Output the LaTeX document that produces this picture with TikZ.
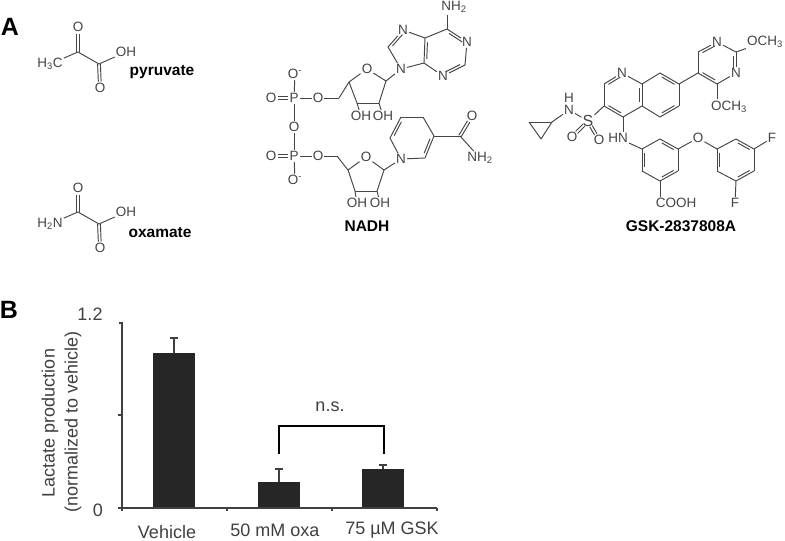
\documentclass[tikz,border=0pt]{standalone}
\usepackage{fontspec}
\setmainfont{Liberation Sans}
\usetikzlibrary{calc}
\definecolor{chemc}{HTML}{454545}
\definecolor{barc}{HTML}{262626}
\definecolor{axisc}{HTML}{404040}
\newcommand{\dbl}[2]{\draw[bond] ($(#1)!0.17!(#2)!2.6pt!90:(#2)$) -- ($(#2)!0.17!(#1)!2.6pt!-90:(#1)$);}
\newcommand{\dbs}[2]{\draw[bond,shorten >=6.5pt] ($(#1)!1.4pt!90:(#2)$) -- ($(#2)!1.4pt!-90:(#1)$);\draw[bond,shorten >=6.5pt] ($(#1)!1.4pt!-90:(#2)$) -- ($(#2)!1.4pt!90:(#1)$);}
\newcommand{\dbn}[2]{\draw[bond,shorten >=6.5pt,shorten <=6pt] ($(#1)!1.4pt!90:(#2)$) -- ($(#2)!1.4pt!-90:(#1)$);\draw[bond,shorten >=6.5pt,shorten <=6pt] ($(#1)!1.4pt!-90:(#2)$) -- ($(#2)!1.4pt!90:(#1)$);}
\newcommand{\bnd}[2]{\draw[bond] (#1) -- (#2);}
\newcommand{\sub}[1]{\textsubscript{#1}}
\begin{document}
\begin{tikzpicture}[x=1pt,y=-1pt,
  atom/.style={inner sep=1pt,text=chemc,font=\fontsize{13.5}{13.5}\selectfont},
  bond/.style={draw=chemc,line width=.95pt},
  name label/.style={inner sep=0pt,font=\fontsize{15.5}{16}\selectfont\bfseries,text=black},
  panel/.style={inner sep=0pt,font=\fontsize{25}{25}\selectfont\bfseries,text=black},
  chart text/.style={inner sep=0pt,text=axisc,font=\fontsize{18}{20}\selectfont},
  axis line/.style={draw=axisc,line width=1.1pt},
  bar/.style={fill=barc,draw=none},
  err/.style={draw=axisc,line width=1.2pt}]
\useasboundingbox (0,0) rectangle (785,541);
\fill[white] (0,0) rectangle (785,541);
\node[panel] (pA) at (10,27) {A};
\node[panel] (pB) at (9,310) {B};
% pyruvate
\node[atom] (py1) at (50,64) {H\sub{3}C};
\coordinate (py2) at (78,52);
\coordinate (py3) at (99,64);
\node[atom] (pyO1) at (78,27) {O};
\node[atom] (pyO2) at (100,88) {O};
\node[atom] (pyOH) at (126,52) {OH};
\bnd{py1}{py2}\bnd{py2}{py3}\bnd{py3}{pyOH}\dbs{py2}{pyO1}\dbs{py3}{pyO2}
\node[name label] (pyl) at (162,72) {pyruvate};
% oxamate
\node[atom] (ox1) at (50,224) {H\sub{2}N};
\coordinate (ox2) at (78,212);
\coordinate (ox3) at (99,224);
\node[atom] (oxO1) at (78,188) {O};
\node[atom] (oxO2) at (100,248) {O};
\node[atom] (oxOH) at (126,212) {OH};
\bnd{ox1}{ox2}\bnd{ox2}{ox3}\bnd{ox3}{oxOH}\dbs{ox2}{oxO1}\dbs{ox3}{oxO2}
\node[name label] (oxl) at (160,233) {oxamate};
% NADH adenine
\node[atom] (nh2a) at (454,7) {NH\sub{2}};
\coordinate (c6) at (447,29);
\node[atom] (n1) at (467,42) {N};
\coordinate (c2) at (465,65);
\node[atom] (n3) at (443,76) {N};
\coordinate (c4) at (424,63);
\coordinate (c5) at (425,38);
\node[atom] (n7) at (403,30) {N};
\coordinate (c8) at (388,47);
\node[atom] (n9) at (401,69) {N};
\draw[bond] (c6) -- (447,15);
\bnd{c6}{n1}\bnd{n1}{c2}\bnd{c2}{n3}\bnd{n3}{c4}\bnd{c4}{c5}\bnd{c5}{c6}\bnd{c5}{n7}\bnd{n7}{c8}\bnd{c8}{n9}\bnd{n9}{c4}
\dbl{n1}{c6}\dbl{n3}{c2}\dbl{c5}{c4}\dbl{n7}{c8}
% ribose 1
\coordinate (r1) at (386,81);
\node[atom] (ro) at (367,69) {O};
\coordinate (r4) at (349,82);
\coordinate (r3) at (357,103);
\coordinate (r2) at (379,103);
\node[atom] (roh1) at (361,116) {OH};
\node[atom] (roh2) at (383,116) {OH};
\coordinate (r5) at (339,98);
\bnd{n9}{r1}\bnd{r1}{ro}\bnd{ro}{r4}\bnd{r4}{r3}\bnd{r3}{r2}\bnd{r2}{r1}\bnd{r3}{roh1}\bnd{r2}{roh2}\bnd{r4}{r5}
% phosphates
\node[atom] (o1) at (318,98) {O};
\node[atom] (p1) at (294,98) {P};
\node[atom] (p1a) at (271,98) {O};
\node[atom] (p1b) at (295,74) {O\textsuperscript{-}};
\node[atom] (om) at (294,127) {O};
\node[atom] (p2) at (294,156) {P};
\node[atom] (p2a) at (271,156) {O};
\node[atom] (p2b) at (295,180) {O\textsuperscript{-}};
\node[atom] (o2) at (318,156) {O};
\bnd{r5}{o1}\bnd{o1}{p1}\dbn{p1}{p1a}\bnd{p1}{p1b}\bnd{p1}{om}\bnd{om}{p2}\dbn{p2}{p2a}\bnd{p2}{p2b}\bnd{p2}{o2}
% ribose 2
\coordinate (s5) at (337,156);
\coordinate (s4) at (348,170);
\node[atom] (so) at (366,157) {O};
\coordinate (s1) at (384,170);
\coordinate (s3) at (355,191);
\coordinate (s2) at (377,191);
\node[atom] (soh1) at (357,203) {OH};
\node[atom] (soh2) at (380,203) {OH};
\bnd{o2}{s5}\bnd{s5}{s4}\bnd{s4}{so}\bnd{so}{s1}\bnd{s1}{s2}\bnd{s2}{s3}\bnd{s3}{s4}\bnd{s3}{soh1}\bnd{s2}{soh2}
% nicotinamide
\node[atom] (nn) at (401,159) {N};
\coordinate (m2) at (425,158);
\coordinate (m3) at (434,136);
\coordinate (m4) at (423,117);
\coordinate (m5) at (401,117);
\coordinate (m6) at (390,138);
\coordinate (mc) at (460,136);
\node[atom] (mo) at (472,116) {O};
\node[atom] (mn) at (480,158) {NH\sub{2}};
\bnd{s1}{nn}\bnd{nn}{m2}\bnd{m2}{m3}\bnd{m3}{m4}\bnd{m4}{m5}\bnd{m5}{m6}\bnd{m6}{nn}\bnd{m3}{mc}\bnd{mc}{mn}\dbs{mc}{mo}
\dbl{m5}{m6}\dbl{m2}{m3}
\node[name label] (nadh) at (367,226) {NADH};
% GSK quinoline
\node[atom] (qn) at (622,73) {N};
\coordinate (q2) at (604,84);
\coordinate (q3) at (604,106);
\coordinate (q4) at (623,117);
\coordinate (q4a) at (642,106);
\coordinate (q8a) at (642,84);
\coordinate (q8) at (660,73);
\coordinate (q7) at (679,84);
\coordinate (q6) at (679,106);
\coordinate (q5) at (660,117);
\bnd{qn}{q2}\bnd{q2}{q3}\bnd{q3}{q4}\bnd{q4}{q4a}\bnd{q4a}{q8a}\bnd{q8a}{qn}\bnd{q8a}{q8}\bnd{q8}{q7}\bnd{q7}{q6}\bnd{q6}{q5}\bnd{q5}{q4a}
\dbl{qn}{q2}\dbl{q3}{q4}\dbl{q4a}{q8a}\dbl{q5}{q6}\dbl{q7}{q8}
% sulfonamide
\node[atom,font=\fontsize{16}{16}\selectfont] (ss) at (588,121) {S};
\node[atom] (so1) at (572,137) {O};
\node[atom] (so2) at (599,140) {O};
\node[atom] (sn) at (569,110) {N};
\node[atom] (sh) at (569,98) {H};
\coordinate (cp1) at (552,122);
\coordinate (cp2) at (529,122);
\coordinate (cp3) at (541,139);
\bnd{q3}{ss}\dbn{ss}{so1}\dbn{ss}{so2}\bnd{ss}{sn}\bnd{sn}{cp1}\bnd{cp1}{cp2}\bnd{cp2}{cp3}\bnd{cp3}{cp1}
% aminophenyl
\node[atom] (hn) at (618,138) {HN};
\coordinate (a1) at (642,149);
\coordinate (a2) at (660,139);
\coordinate (a3) at (678,149);
\coordinate (a4) at (678,171);
\coordinate (a5) at (660,181);
\coordinate (a6) at (642,171);
\node[atom] (cooh) at (676,203) {COOH};
\node[atom] (oe) at (698,138) {O};
\coordinate (hnt) at (623,132);
\bnd{q4}{hnt}\bnd{hn}{a1}\bnd{a1}{a2}\bnd{a2}{a3}\bnd{a3}{a4}\bnd{a4}{a5}\bnd{a5}{a6}\bnd{a6}{a1}
\dbl{a1}{a6}\dbl{a5}{a4}\dbl{a3}{a2}
\coordinate (cooht) at (660,197);
\bnd{a5}{cooht}\bnd{a3}{oe}
% difluorophenyl
\coordinate (b1) at (717,149);
\coordinate (b2) at (736,139);
\coordinate (b3) at (754,149);
\coordinate (b4) at (754,171);
\coordinate (b5) at (736,181);
\coordinate (b6) at (717,171);
\node[atom] (f1) at (772,138) {F};
\node[atom] (f2) at (735,203) {F};
\bnd{oe}{b1}\bnd{b1}{b2}\bnd{b2}{b3}\bnd{b3}{b4}\bnd{b4}{b5}\bnd{b5}{b6}\bnd{b6}{b1}
\dbl{b1}{b6}\dbl{b5}{b4}\dbl{b3}{b2}
\bnd{b3}{f1}\bnd{b5}{f2}
% pyrimidine
\coordinate (y1) at (698,73);
\coordinate (y2) at (698,52);
\node[atom] (y3) at (717,42) {N};
\coordinate (y4) at (736,52);
\node[atom] (y5) at (736,73) {N};
\coordinate (y6) at (717,84);
\node[atom] (me1) at (765,42) {OCH\sub{3}};
\node[atom] (me2) at (729,107) {OCH\sub{3}};
\bnd{q7}{y1}\bnd{y1}{y2}\bnd{y2}{y3}\bnd{y3}{y4}\bnd{y4}{y5}\bnd{y5}{y6}\bnd{y6}{y1}
\dbl{y3}{y2}\dbl{y1}{y6}\dbl{y5}{y4}
\bnd{y4}{me1}\coordinate (me2t) at (717,99);\bnd{y6}{me2t}
\node[name label] (gsk) at (681,226) {GSK-2837808A};
% chart
\draw[bar] (153,353) rectangle (195,508);
\draw[bar] (258,482) rectangle (300,508);
\draw[bar] (362,469) rectangle (404,508);
\draw[err] (174,353) -- (174,338) (170,338) -- (178,338);
\draw[err] (279,482) -- (279,469) (275,469) -- (283,469);
\draw[err] (383,469) -- (383,465) (379,465) -- (387,465);
\draw[axis line] (119,323) -- (122,323) -- (122,508);
\draw[axis line] (118,415) -- (122,415);
\draw[axis line] (118,508) -- (437,508);
\draw[axis line] (122,508) -- (122,511) (227,508) -- (227,511) (332,508) -- (332,511) (437,508) -- (437,511);
\draw[draw=black,line width=1.2pt] (279,454) -- (279,426) -- (384,426) -- (384,454);
\node[chart text] (ns) at (330,407) {n.s.};
\node[chart text] (t12) at (90,314) {1.2};
\node[chart text] (t0) at (98,510) {0};
\node[chart text] (xa) at (167,532) {Vehicle};
\node[chart text] (xb) at (275,530) {50 mM oxa};
\node[chart text] (xc) at (392,530) {75 µM GSK};
\node[chart text,rotate=90] (yl1) at (50,423) {Lactate production};
\node[chart text,rotate=90] (yl2) at (73,422) {(normalized to vehicle)};
\end{tikzpicture}
\end{document}
